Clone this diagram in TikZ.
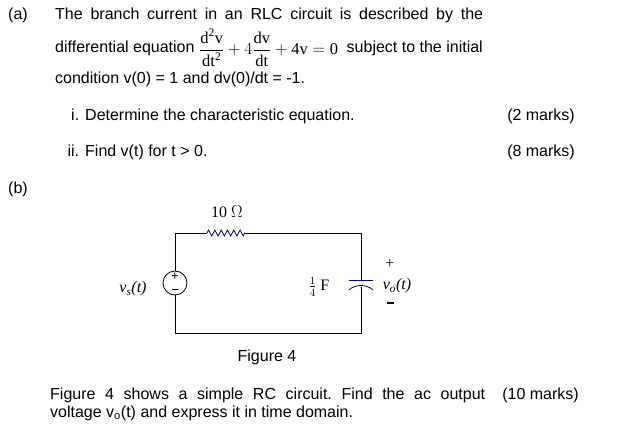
\documentclass[tikz,border=0pt]{standalone}
\usepackage{fontspec}
\setmainfont{Liberation Sans}
\newfontfamily\serifx{Liberation Serif}
\usetikzlibrary{decorations.pathmorphing}
\newcommand{\sx}[1]{\hbox{\serifx #1}}
\begin{document}
\begin{tikzpicture}[x=1pt,y=-1pt,
  txt/.style={anchor=base west,inner sep=0pt,font=\fontsize{16}{19}\selectfont\frenchspacing},
  rtxt/.style={anchor=base east,inner sep=0pt,font=\fontsize{16}{19}\selectfont},
  wire/.style={line width=0.8pt},
  ctxt/.style={inner sep=0pt,font=\serifx\fontsize{16}{18}\selectfont}]
\useasboundingbox (0,0) rectangle (618,441);
\node[txt] (a) at (8,20) {(a)};
\node[txt] (l1) at (55,20) {\makebox[428pt][s]{The branch current in an RLC circuit is described by the}};
\node[txt] (l2) at (55,53) {differential equation};
\node[anchor=west,inner sep=0pt,font=\serifx\fontsize{16.5}{18}\selectfont] (eq) at (199,48)
  {$\displaystyle\frac{\sx{d\textsuperscript{2}v}}{\sx{dt\textsuperscript{2}}}+4\frac{\sx{dv}}{\sx{dt}}+\sx{4v}=\sx{0}$};
\node[rtxt] (l2b) at (483,53) {subject to the initial};
\node[txt] (l3) at (55,84) {condition v(0) = 1 and dv(0)/dt = -1.};
\node[txt] (i) at (62,121) {\makebox[17pt][r]{i.}\hspace{6pt}Determine the characteristic equation.};
\node[rtxt] (m1) at (575,121) {(2 marks)};
\node[txt] (ii) at (62,157) {\makebox[17pt][r]{ii.}\hspace{6pt}Find v(t) for t > 0.};
\node[rtxt] (m2) at (575,157) {(8 marks)};
\node[txt] (b) at (8,193) {(b)};
% circuit
\coordinate (tl) at (175,233); \coordinate (tr) at (361,233);
\coordinate (bl) at (175,333); \coordinate (br) at (361,333);
\node[draw,circle,wire,minimum size=24pt,inner sep=0pt] (src) at (175,283) {};
\node[inner sep=0pt,font=\fontsize{13}{13}\selectfont] (sp) at (175,277) {+};
\node[inner sep=0pt] (sm) at (175,289) {\rule{6pt}{0.8pt}};
\coordinate (r1) at (207,233); \coordinate (r2) at (245,233);
\coordinate (c1) at (361,280); \coordinate (c2) at (361,287);
\draw[wire] (src.north) -- (tl) -- (r1);
\draw[wire,draw=blue!50!black,decorate,decoration={zigzag,segment length=6.3pt,amplitude=3pt}] (r1) -- (r2);
\draw[wire] (r2) -- (tr) -- (c1);
\draw[wire,draw=blue!50!black] (349,280) -- (373,280);
\draw[wire,draw=blue!50!black] (349,290) .. controls (355,284) and (367,284) .. (373,290);
\draw[wire] (c2) -- (br) -- (bl) -- (src.south);
\node[ctxt] (rl) at (227,212) {10 $\Omega$};
\node[ctxt] (vs) at (133,289) {\itshape v\textsubscript{s}(t)};
\node[ctxt] (cl) at (319,287) {$\frac{1}{4}$ F};
\node[ctxt] (vo) at (397,286) {\itshape v\textsubscript{o}(t)};
\node[ctxt] (vp) at (390,264) {+};
\node[inner sep=0pt] (vm) at (390,303) {\rule{7pt}{1.2pt}};
\node[txt,anchor=base] (fig) at (267,361) {Figure 4};
\node[txt] (p1) at (50,399) {\makebox[435pt][s]{Figure 4 shows a simple RC circuit. Find the ac output}};
\node[rtxt] (m3) at (579,399) {(10 marks)};
\node[txt] (p2) at (50,417) {voltage v\textsubscript{o}(t) and express it in time domain.};
\end{tikzpicture}
\end{document}
